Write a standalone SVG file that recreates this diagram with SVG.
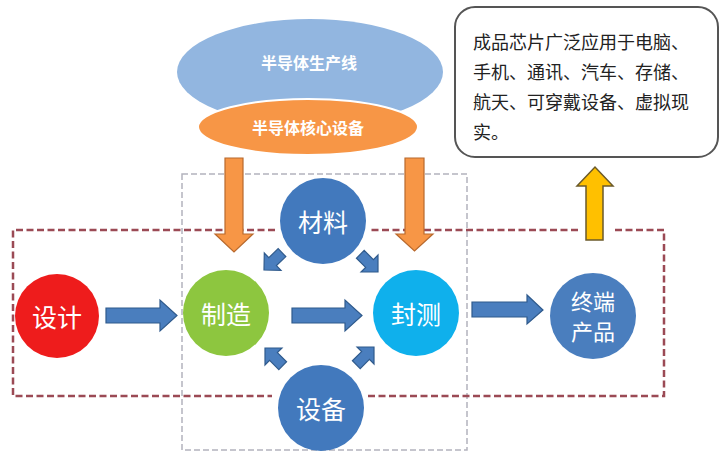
<svg xmlns="http://www.w3.org/2000/svg" width="724" height="454" viewBox="0 0 724 454">
<defs>
<style>
.cjk{font-family:"Noto Sans CJK SC","Noto Sans",sans-serif;}
.lbl{fill:#fff;font-size:25px;text-anchor:middle;dominant-baseline:central;}
.ell{fill:#fff;font-size:16px;font-weight:bold;text-anchor:middle;dominant-baseline:central;}
.blk{fill:#4a7ebe;stroke:#2f5a8c;stroke-width:1.2;}
.org{fill:#f79646;stroke:#b8692d;stroke-width:1.2;}
.txt{fill:#222;font-size:18px;}
</style>
<polygon id="da" class="blk" points="-25,-5.5 -12,-5.5 -12,-12 0,0 -12,12 -12,5.5 -25,5.5"/>
</defs>
<rect width="724" height="454" fill="#fff"/>
<g id="frames" fill="none">
<rect x="182" y="174" width="285" height="276" stroke="#b3b3bd" stroke-width="1.5" stroke-dasharray="6 3"/>
<path d="M275,230 H13 V396 H272 M368,396 H664 V230 H612 M578,230 H368" stroke="#9b4a55" stroke-width="2.5" stroke-dasharray="7 3.5"/>
</g>
<g id="line">
<ellipse cx="310" cy="72" rx="133" ry="53" fill="#92b6e0"/>
<text class="cjk ell" x="309" y="62">半导体生产线</text>
</g>
<g id="core">
<ellipse cx="308" cy="127" rx="110" ry="28" fill="#f79646" stroke="#fff" stroke-width="2"/>
<text class="cjk ell" x="308" y="127">半导体核心设备</text>
</g>
<g id="callout">
<rect x="455" y="7" width="263" height="150" rx="20" ry="20" fill="#fff" stroke="#555" stroke-width="2"/>
<text class="cjk txt" x="473" y="49">成品芯片广泛应用于电脑、</text>
<text class="cjk txt" x="473" y="79">手机、通讯、汽车、存储、</text>
<text class="cjk txt" x="473" y="109">航天、可穿戴设备、虚拟现</text>
<text class="cjk txt" x="473" y="139">实。</text>
</g>
<g id="design">
<circle cx="57" cy="316" r="42" fill="#ee1c1c"/>
<text class="cjk lbl" x="57" y="316">设计</text>
</g>
<g id="manufacture">
<circle cx="226" cy="313" r="43" fill="#8dc63f"/>
<text class="cjk lbl" x="226" y="313">制造</text>
</g>
<g id="packtest">
<circle cx="416" cy="313" r="43" fill="#0fb0ec"/>
<text class="cjk lbl" x="416" y="313">封测</text>
</g>
<g id="terminal">
<circle cx="593" cy="316" r="43" fill="#4a7ebe"/>
<text class="cjk lbl" x="593" y="300" style="font-size:22px">终端</text>
<text class="cjk lbl" x="593" y="330" style="font-size:22px">产品</text>
</g>
<g id="material">
<circle cx="323" cy="221" r="43" fill="#4279bd"/>
<text class="cjk lbl" x="323" y="221">材料</text>
</g>
<g id="equipment">
<circle cx="321" cy="408" r="43" fill="#4279bd"/>
<text class="cjk lbl" x="321" y="408">设备</text>
</g>
<g id="connectors">
<polygon class="blk" points="106,308 160,308 160,300 177,315.5 160,331 160,323 106,323"/>
<polygon class="blk" points="292,308 345,308 345,300 362,315.5 345,331 345,323 292,323"/>
<polygon class="blk" points="472,302 527,302 527,295 543,310 527,324 527,317 472,317"/>
<polygon class="org" points="225,158 243,158 243,234 253,234 234,252 215,234 225,234"/>
<polygon class="org" points="405,158 424,158 424,234 433,234 414.5,251 396,234 405,234"/>
<polygon points="586,240 603,240 603,186 613,186 595,167 577,186 586,186" fill="#ffc000" stroke="#6b5a2a" stroke-width="1.5"/>
<use href="#da" transform="translate(264,270) rotate(136)"/>
<use href="#da" transform="translate(378,272) rotate(45)"/>
<use href="#da" transform="translate(265,348) rotate(-135)"/>
<use href="#da" transform="translate(374,347) rotate(-45)"/>
</g>
</svg>
